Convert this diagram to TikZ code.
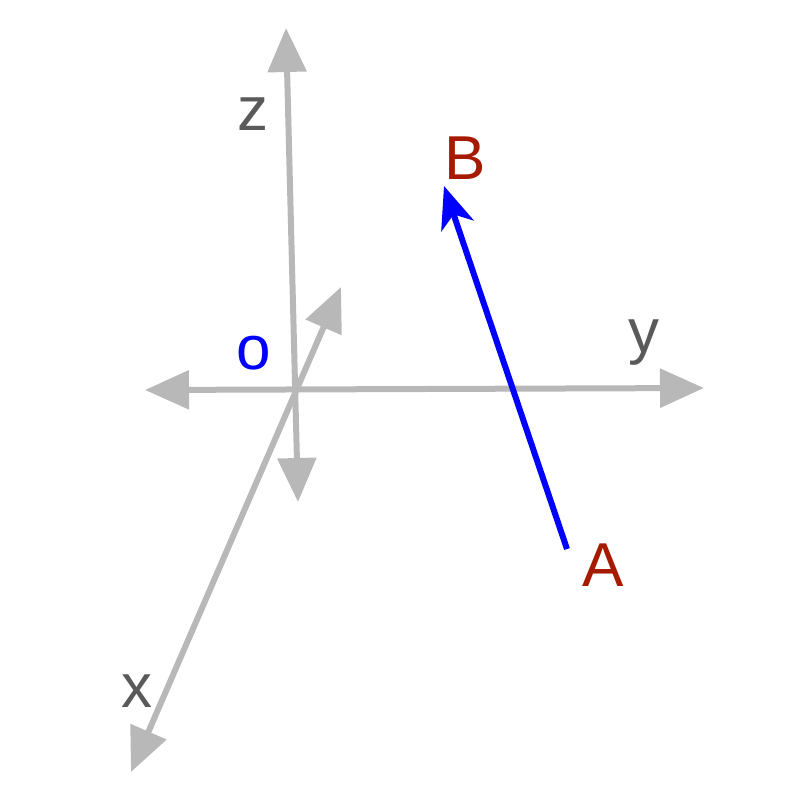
\documentclass[tikz,border=0pt]{standalone}
\usepackage{fontspec}
\setmainfont{Liberation Sans}
\usetikzlibrary{arrows.meta}
\definecolor{ax}{HTML}{B8B8B8}
\definecolor{lbl}{HTML}{5A5A5A}
\definecolor{pt}{HTML}{A51A00}
\begin{document}
\begin{tikzpicture}[x=1pt,y=-1pt,
  axis/.style={draw=ax,line width=6pt,{Triangle[length=44pt,width=38pt]}-{Triangle[length=44pt,width=38pt]}},
  lab/.style={font=\fontsize{62}{62}\selectfont,inner sep=0pt}]
\useasboundingbox (0,0) rectangle (800,800);
\coordinate (ztop) at (286,28);
\coordinate (zbot) at (298,502);
\coordinate (yl) at (145,390);
\coordinate (yr) at (704,388);
\coordinate (xb) at (131,772);
\coordinate (xt) at (341,287);
\coordinate (A) at (567,549);
\coordinate (B) at (444,186);
\draw[axis] (zbot) -- (ztop);
\draw[axis] (yl) -- (yr);
\draw[axis] (xb) -- (xt);
\draw[blue,line width=6pt,-{Stealth[length=42pt,width=34pt,inset=12pt]}] (A) -- (B);
\node[lab,text=lbl] (lz) at (253,114) {z};
\node[lab,text=lbl] (ly) at (644,343) {y};
\node[lab,text=lbl] (lx) at (137,691) {x};
\node[lab,text=blue] (lo) at (254,353) {o};
\node[lab,text=pt] (lB) at (465,158) {B};
\node[lab,text=pt] (lA) at (603,565) {A};
\end{tikzpicture}
\end{document}
